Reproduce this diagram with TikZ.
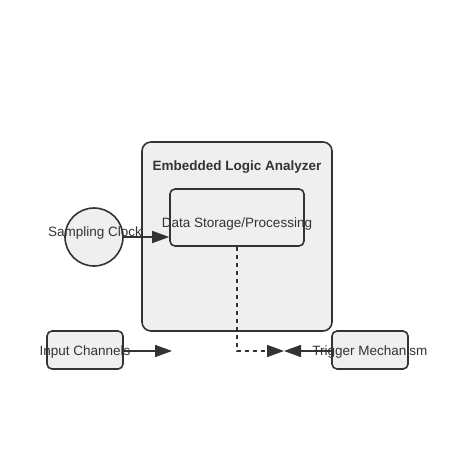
\documentclass[tikz,border=0pt]{standalone}
\usepackage{fontspec}
\setmainfont{Liberation Sans}
\usetikzlibrary{arrows.meta}
\definecolor{ink}{HTML}{333333}
\definecolor{boxfill}{HTML}{EFEFEF}
\tikzset{
  box/.style={draw=ink, fill=boxfill, line width=1.6pt, rounded corners=5pt},
  lbl/.style={text=ink, font=\fontsize{13.5}{16}\selectfont, inner sep=0pt},
  conn/.style={draw=ink, line width=1.6pt, -{Triangle[length=17pt,width=12pt]}},
  dconn/.style={conn, dash pattern=on 4pt off 4pt},
}
\begin{document}
\begin{tikzpicture}[x=1pt,y=-1pt]
\useasboundingbox (0,0) rectangle (474,474);
% outer container
\draw[box, rounded corners=9pt] (142,142) rectangle (332,331);
\node[lbl, font=\bfseries\fontsize{13.5}{16}\selectfont] (title) at (237,167.5) {Embedded Logic Analyzer};
% inner box
\node[box, minimum width=134pt, minimum height=57pt, inner sep=0pt] (store) at (237,217.5) {};
\node[lbl] (storet) at (237,224) {Data Storage/Processing};
% sampling clock
\node[draw=ink, fill=boxfill, line width=1.6pt, circle, minimum size=58pt, inner sep=0pt] (clk) at (94,237) {};
\node[lbl] (clkt) at (95,233.5) {Sampling Clock};
% input channels
\node[box, minimum width=76pt, minimum height=38pt, inner sep=0pt] (inp) at (85,350) {};
\node[lbl] (inpt) at (85,352.5) {Input Channels};
% trigger
\node[box, minimum width=76pt, minimum height=38pt, inner sep=0pt] (trig) at (370,350) {};
\node[lbl] (trigt) at (370,352.5) {Trigger Mechanism};
% connector endpoints
\coordinate (inEnd) at (172,351);
\coordinate (mid) at (284,351);
\coordinate (corner) at (237,351);
\draw[conn] (clk.east) -- (store.west |- clk.east);
\draw[conn] (inp.east |- inEnd) -- (inEnd);
\draw[conn] (trig.west |- mid) -- (mid);
\draw[dconn] (store.south) -- (corner) -- (mid);
\end{tikzpicture}
\end{document}
